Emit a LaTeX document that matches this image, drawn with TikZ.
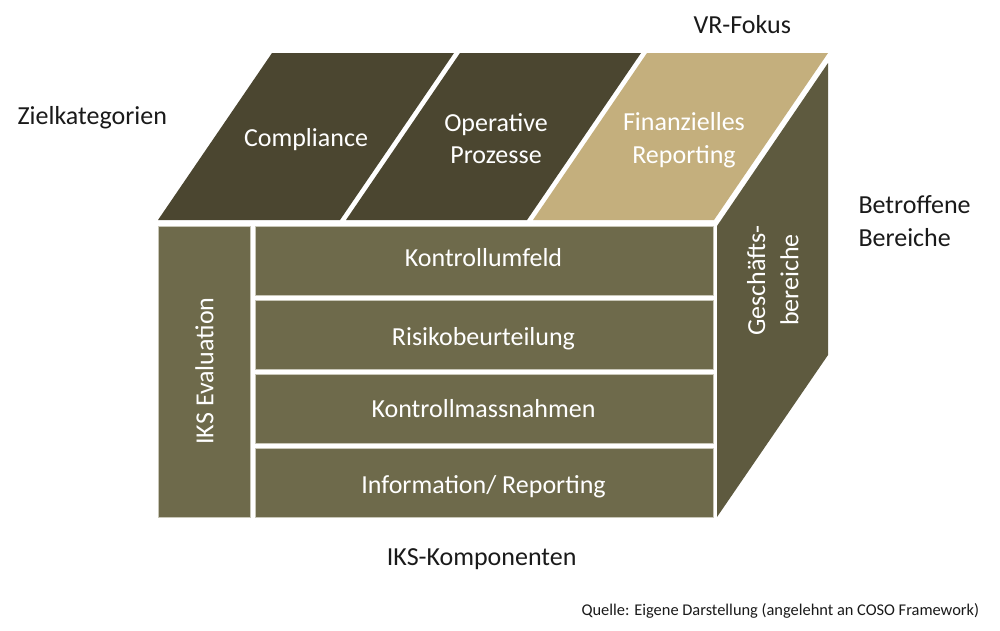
\documentclass[tikz,border=0pt]{standalone}
\usepackage{fontspec}
\setmainfont{Carlito}
\definecolor{topc}{HTML}{4B4630}
\definecolor{finc}{HTML}{C4AF7D}
\definecolor{frontc}{HTML}{6E6A4B}
\definecolor{sidec}{HTML}{5E5A3F}
\definecolor{edgec}{HTML}{C9C7B8}
\definecolor{inkc}{HTML}{1A1A1A}
\begin{document}
\begin{tikzpicture}[x=1pt,y=-1pt,
  frontbox/.style={rectangle, fill=frontc, draw=edgec, line width=0.8pt, inner sep=0pt},
  lbl/.style={font=\fontsize{26}{33}\selectfont, text=white, inner sep=0pt, anchor=base},
  caption/.style={font=\fontsize{26}{33}\selectfont, text=inkc, inner sep=0pt, anchor=base west},
  srcnote/.style={font=\fontsize{16.4}{20}\selectfont, text=inkc, inner sep=0pt, anchor=base east}]
\useasboundingbox[fill=white] (0,0) rectangle (1000,630);
% top face
\fill[topc] (158,220) -- (272,53) -- (454,53) -- (340,220) -- cycle;
\fill[topc] (346,220) -- (460,53) -- (641,53) -- (527,220) -- cycle;
\fill[finc] (533,220) -- (647,53) -- (828,53) -- (714,220) -- cycle;
% right face
\fill[sidec] (717,226) -- (828,63) -- (828,355) -- (717,517) -- cycle;
% front face
\node[frontbox, minimum width=92pt, minimum height=291pt] (iks) at (204,371.5) {};
\node[frontbox, minimum width=458pt, minimum height=69pt] (r1) at (484,260.5) {};
\node[frontbox, minimum width=458pt, minimum height=69pt] (r2) at (484,334.5) {};
\node[frontbox, minimum width=458pt, minimum height=69pt] (r3) at (484,408.5) {};
\node[frontbox, minimum width=458pt, minimum height=69pt] (r4) at (484,482.5) {};
% texts on the cube
\node[lbl] (comp) at (306,146) {Compliance};
\node[lbl] (oper1) at (496,131) {Operative};
\node[lbl] (oper2) at (496,163) {Prozesse};
\node[lbl] (fin1) at (684,130.5) {Finanzielles};
\node[lbl] (fin2) at (684,163) {Reporting};
\node[lbl, rotate=90] (iksl) at (213.3,371) {IKS Evaluation};
\node[lbl] (r1l) at (483.5,266) {Kontrollumfeld};
\node[lbl] (r2l) at (483.5,345) {Risikobeurteilung};
\node[lbl] (r3l) at (483.5,417.3) {Kontrollmassnahmen};
\node[lbl] (r4l) at (483.5,493.3) {Information/ Reporting};
\node[lbl, rotate=90] (gesch1) at (765,280.5) {Geschäfts-};
\node[lbl, rotate=90] (gesch2) at (798.3,280) {bereiche};
% outside captions
\node[caption] (ziel) at (17.3,124) {Zielkategorien};
\node[caption] (vr) at (693.3,33.3) {VR-Fokus};
\node[caption] (betr1) at (858.3,213.3) {Betroffene};
\node[caption] (betr2) at (858.3,246) {Bereiche};
\node[caption] (komp) at (386.7,565) {IKS-Komponenten};
\node[srcnote] (quelle) at (979.3,615) {Quelle: Eigene Darstellung (angelehnt an COSO Framework)};
\end{tikzpicture}
\end{document}
